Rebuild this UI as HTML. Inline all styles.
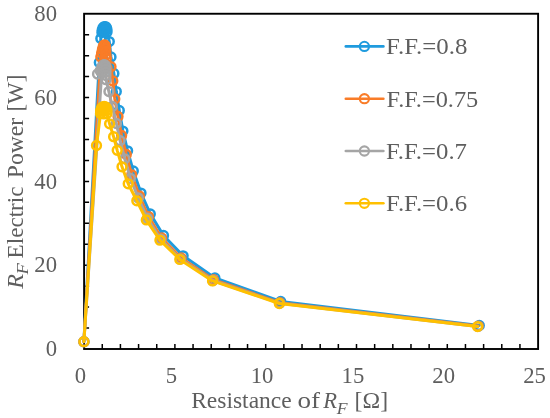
<!DOCTYPE html><html><head><meta charset="utf-8"><title>Chart</title><style>html,body{margin:0;padding:0;background:#fff}svg{display:block}text{font-family:"Liberation Serif",serif;fill:#5e5e5e}</style></head><body>
<svg width="550" height="418" viewBox="0 0 550 418">
<rect width="550" height="418" fill="#fff"/>
<g stroke="#000" fill="none">
<rect x="84.10" y="13.75" width="454.00" height="335.25" stroke-width="1.9"/>
<path d="M102.26 349.00V344.00M120.42 349.00V344.00M138.58 349.00V344.00M156.74 349.00V344.00M174.90 349.00V344.00M193.06 349.00V344.00M211.22 349.00V344.00M229.38 349.00V344.00M247.54 349.00V344.00M265.70 349.00V344.00M283.86 349.00V344.00M302.02 349.00V344.00M320.18 349.00V344.00M338.34 349.00V344.00M356.50 349.00V344.00M374.66 349.00V344.00M392.82 349.00V344.00M410.98 349.00V344.00M429.14 349.00V344.00M447.30 349.00V344.00M465.46 349.00V344.00M483.62 349.00V344.00M501.78 349.00V344.00M519.94 349.00V344.00M84.10 328.05H89.10M84.10 307.09H89.10M84.10 286.14H89.10M84.10 265.19H89.10M84.10 244.23H89.10M84.10 223.28H89.10M84.10 202.33H89.10M84.10 181.38H89.10M84.10 160.42H89.10M84.10 139.47H89.10M84.10 118.52H89.10M84.10 97.56H89.10M84.10 76.61H89.10M84.10 55.66H89.10M84.10 34.70H89.10" stroke-width="1.5"/>
</g>
<g stroke="#1F9BDE" fill="none"><polyline points="83.9,341.7 99.3,62.4 100.8,38.4 101.9,32.6 102.2,30.0 103.0,27.8 104.2,26.6 105.5,26.6 106.5,27.8 107.0,29.8 107.0,32.2 109.3,41.6 111.0,57.0 113.9,73.4 116.3,91.6 119.3,110.4 122.9,131.1 127.6,150.8 133.3,170.9 141.0,193.1 150.3,213.9 163.5,235.5 183.1,255.8 214.9,278.0 280.7,301.4 479.3,325.4" stroke-width="3.0" stroke-linejoin="round" stroke-linecap="round"/>
<g stroke-width="2.5"><circle cx="83.9" cy="341.7" r="4.4"/><circle cx="99.3" cy="62.4" r="4.4"/><circle cx="100.8" cy="38.4" r="4.4"/><circle cx="101.9" cy="32.6" r="4.4"/><circle cx="102.2" cy="30.0" r="4.4"/><circle cx="103.0" cy="27.8" r="4.4"/><circle cx="104.2" cy="26.6" r="4.4"/><circle cx="105.5" cy="26.6" r="4.4"/><circle cx="106.5" cy="27.8" r="4.4"/><circle cx="107.0" cy="29.8" r="4.4"/><circle cx="107.0" cy="32.2" r="4.4"/><circle cx="109.3" cy="41.6" r="4.4"/><circle cx="111.0" cy="57.0" r="4.4"/><circle cx="113.9" cy="73.4" r="4.4"/><circle cx="116.3" cy="91.6" r="4.4"/><circle cx="119.3" cy="110.4" r="4.4"/><circle cx="122.9" cy="131.1" r="4.4"/><circle cx="127.6" cy="150.8" r="4.4"/><circle cx="133.3" cy="170.9" r="4.4"/><circle cx="141.0" cy="193.1" r="4.4"/><circle cx="150.3" cy="213.9" r="4.4"/><circle cx="163.5" cy="235.5" r="4.4"/><circle cx="183.1" cy="255.8" r="4.4"/><circle cx="214.9" cy="278.0" r="4.4"/><circle cx="280.7" cy="301.4" r="4.4"/><circle cx="479.3" cy="325.4" r="4.4"/><circle cx="104.5" cy="31.0" r="4.4"/></g></g>
<g stroke="#F97C28" fill="none"><polyline points="83.9,341.7 100.8,57.0 101.6,53.0 102.4,49.5 103.2,46.8 104.0,45.1 104.8,44.9 105.3,46.2 105.6,48.5 105.8,51.5 106.0,55.0 106.4,58.5 111.0,66.7 112.8,81.0 114.8,99.0 118.0,116.4 121.6,135.5 126.3,154.5 131.7,174.8 139.4,196.0 148.5,216.6 161.6,238.0 181.1,258.0 213.5,279.7 279.9,302.7 478.3,326.1" stroke-width="3.0" stroke-linejoin="round" stroke-linecap="round"/>
<g stroke-width="2.5"><circle cx="83.9" cy="341.7" r="4.4"/><circle cx="100.8" cy="57.0" r="4.4"/><circle cx="101.6" cy="53.0" r="4.4"/><circle cx="102.4" cy="49.5" r="4.4"/><circle cx="103.2" cy="46.8" r="4.4"/><circle cx="104.0" cy="45.1" r="4.4"/><circle cx="104.8" cy="44.9" r="4.4"/><circle cx="105.3" cy="46.2" r="4.4"/><circle cx="105.6" cy="48.5" r="4.4"/><circle cx="105.8" cy="51.5" r="4.4"/><circle cx="106.0" cy="55.0" r="4.4"/><circle cx="106.4" cy="58.5" r="4.4"/><circle cx="111.0" cy="66.7" r="4.4"/><circle cx="112.8" cy="81.0" r="4.4"/><circle cx="114.8" cy="99.0" r="4.4"/><circle cx="118.0" cy="116.4" r="4.4"/><circle cx="121.6" cy="135.5" r="4.4"/><circle cx="126.3" cy="154.5" r="4.4"/><circle cx="131.7" cy="174.8" r="4.4"/><circle cx="139.4" cy="196.0" r="4.4"/><circle cx="148.5" cy="216.6" r="4.4"/><circle cx="161.6" cy="238.0" r="4.4"/><circle cx="181.1" cy="258.0" r="4.4"/><circle cx="213.5" cy="279.7" r="4.4"/><circle cx="279.9" cy="302.7" r="4.4"/><circle cx="478.3" cy="326.1" r="4.4"/></g></g>
<g stroke="#A5A5A5" fill="none"><polyline points="83.9,341.7 101.7,73.0 97.5,74.0 100.2,70.8 101.4,68.0 102.6,66.0 103.6,64.9 104.5,64.7 105.3,65.3 105.8,66.8 106.0,69.0 106.0,72.0 106.0,75.5 106.0,79.7 108.9,91.6 112.3,106.5 116.4,123.5 120.1,140.7 124.8,158.8 130.4,178.3 138.3,198.0 147.5,218.2 160.7,239.2 180.3,258.9 212.9,280.5 279.5,303.2 477.9,326.4" stroke-width="3.0" stroke-linejoin="round" stroke-linecap="round"/>
<g stroke-width="2.5"><circle cx="83.9" cy="341.7" r="4.4"/><circle cx="101.7" cy="73.0" r="4.4"/><circle cx="97.5" cy="74.0" r="4.4"/><circle cx="100.2" cy="70.8" r="4.4"/><circle cx="101.4" cy="68.0" r="4.4"/><circle cx="102.6" cy="66.0" r="4.4"/><circle cx="103.6" cy="64.9" r="4.4"/><circle cx="104.5" cy="64.7" r="4.4"/><circle cx="105.3" cy="65.3" r="4.4"/><circle cx="105.8" cy="66.8" r="4.4"/><circle cx="106.0" cy="69.0" r="4.4"/><circle cx="106.0" cy="72.0" r="4.4"/><circle cx="106.0" cy="75.5" r="4.4"/><circle cx="106.0" cy="79.7" r="4.4"/><circle cx="108.9" cy="91.6" r="4.4"/><circle cx="112.3" cy="106.5" r="4.4"/><circle cx="116.4" cy="123.5" r="4.4"/><circle cx="120.1" cy="140.7" r="4.4"/><circle cx="124.8" cy="158.8" r="4.4"/><circle cx="130.4" cy="178.3" r="4.4"/><circle cx="138.3" cy="198.0" r="4.4"/><circle cx="147.5" cy="218.2" r="4.4"/><circle cx="160.7" cy="239.2" r="4.4"/><circle cx="180.3" cy="258.9" r="4.4"/><circle cx="212.9" cy="280.5" r="4.4"/><circle cx="279.5" cy="303.2" r="4.4"/><circle cx="477.9" cy="326.4" r="4.4"/></g></g>
<g stroke="#FFC000" fill="none"><polyline points="83.9,341.7 96.5,145.5 100.5,113.6 100.6,110.6 101.5,108.3 102.8,106.8 104.1,106.3 105.4,106.8 106.5,108.3 107.0,110.6 107.0,113.6 109.6,123.8 113.6,136.7 117.2,150.3 122.0,166.8 128.2,183.8 136.8,200.8 146.3,219.9 159.9,240.2 179.8,259.4 212.5,280.9 279.3,303.5 477.6,326.6" stroke-width="3.0" stroke-linejoin="round" stroke-linecap="round"/>
<g stroke-width="2.5"><circle cx="83.9" cy="341.7" r="4.4"/><circle cx="96.5" cy="145.5" r="4.4"/><circle cx="100.5" cy="113.6" r="4.4"/><circle cx="100.6" cy="110.6" r="4.4"/><circle cx="101.5" cy="108.3" r="4.4"/><circle cx="102.8" cy="106.8" r="4.4"/><circle cx="104.1" cy="106.3" r="4.4"/><circle cx="105.4" cy="106.8" r="4.4"/><circle cx="106.5" cy="108.3" r="4.4"/><circle cx="107.0" cy="110.6" r="4.4"/><circle cx="107.0" cy="113.6" r="4.4"/><circle cx="109.6" cy="123.8" r="4.4"/><circle cx="113.6" cy="136.7" r="4.4"/><circle cx="117.2" cy="150.3" r="4.4"/><circle cx="122.0" cy="166.8" r="4.4"/><circle cx="128.2" cy="183.8" r="4.4"/><circle cx="136.8" cy="200.8" r="4.4"/><circle cx="146.3" cy="219.9" r="4.4"/><circle cx="159.9" cy="240.2" r="4.4"/><circle cx="179.8" cy="259.4" r="4.4"/><circle cx="212.5" cy="280.9" r="4.4"/><circle cx="279.3" cy="303.5" r="4.4"/><circle cx="477.6" cy="326.6" r="4.4"/><circle cx="103.8" cy="113.9" r="4.4"/><circle cx="103.8" cy="110.5" r="4.4"/></g></g>
<text x="57" y="356.1" font-size="22.7" text-anchor="end">0</text>
<text x="57" y="272.4" font-size="22.7" text-anchor="end">20</text>
<text x="57" y="188.7" font-size="22.7" text-anchor="end">40</text>
<text x="57" y="105.0" font-size="22.7" text-anchor="end">60</text>
<text x="57" y="21.4" font-size="22.7" text-anchor="end">80</text>
<text x="80.5" y="383.4" font-size="22.7" text-anchor="middle">0</text>
<text x="171.3" y="383.4" font-size="22.7" text-anchor="middle">5</text>
<text x="262.1" y="383.4" font-size="22.7" text-anchor="middle">10</text>
<text x="352.9" y="383.4" font-size="22.7" text-anchor="middle">15</text>
<text x="443.7" y="383.4" font-size="22.7" text-anchor="middle">20</text>
<text x="534.5" y="383.4" font-size="22.7" text-anchor="middle">25</text>
<text x="191.17" y="408.00" font-size="22.7" textLength="100.58" lengthAdjust="spacingAndGlyphs">Resistance</text>
<text x="297.42" y="408.00" font-size="22.7" textLength="22.54" lengthAdjust="spacingAndGlyphs">of</text>
<text x="323.24" y="408.00" font-size="22.7" font-style="italic" textLength="13.77" lengthAdjust="spacingAndGlyphs">R</text>
<text x="336.78" y="413.60" font-size="16.5" font-style="italic" textLength="10.81" lengthAdjust="spacingAndGlyphs">F</text>
<text x="354.64" y="408.00" font-size="22.7" textLength="33.47" lengthAdjust="spacingAndGlyphs">[Ω]</text>
<text transform="translate(22.80 288.67) rotate(-90)" font-size="22.7" font-style="italic" textLength="14.81" lengthAdjust="spacingAndGlyphs">R</text>
<text transform="translate(28.00 274.52) rotate(-90)" font-size="16.5" font-style="italic" textLength="11.30" lengthAdjust="spacingAndGlyphs">F</text>
<text transform="translate(22.80 258.42) rotate(-90)" font-size="22.7" textLength="71.91" lengthAdjust="spacingAndGlyphs">Electric</text>
<text transform="translate(22.80 178.23) rotate(-90)" font-size="22.7" textLength="60.23" lengthAdjust="spacingAndGlyphs">Power</text>
<text transform="translate(22.80 111.61) rotate(-90)" font-size="22.7" textLength="36.97" lengthAdjust="spacingAndGlyphs">[W]</text>
<g stroke="#1F9BDE" fill="none"><path d="M345.8 46.4H383.4" stroke-width="2.6" stroke-linecap="round"/><circle cx="364.4" cy="46.4" r="4.6" stroke-width="2.1"/></g>
<text x="386.07" y="54.30" font-size="23" textLength="81.26" lengthAdjust="spacingAndGlyphs">F.F.=0.8</text>
<g stroke="#F97C28" fill="none"><path d="M345.8 98.7H383.4" stroke-width="2.6" stroke-linecap="round"/><circle cx="364.4" cy="98.7" r="4.6" stroke-width="2.1"/></g>
<text x="386.56" y="106.60" font-size="23" textLength="91.74" lengthAdjust="spacingAndGlyphs">F.F.=0.75</text>
<g stroke="#A5A5A5" fill="none"><path d="M345.8 151.0H383.4" stroke-width="2.6" stroke-linecap="round"/><circle cx="364.4" cy="151.0" r="4.6" stroke-width="2.1"/></g>
<text x="386.08" y="158.90" font-size="23" textLength="80.92" lengthAdjust="spacingAndGlyphs">F.F.=0.7</text>
<g stroke="#FFC000" fill="none"><path d="M345.8 203.3H383.4" stroke-width="2.6" stroke-linecap="round"/><circle cx="364.4" cy="203.3" r="4.6" stroke-width="2.1"/></g>
<text x="386.07" y="211.20" font-size="23" textLength="81.07" lengthAdjust="spacingAndGlyphs">F.F.=0.6</text>
</svg></body></html>
